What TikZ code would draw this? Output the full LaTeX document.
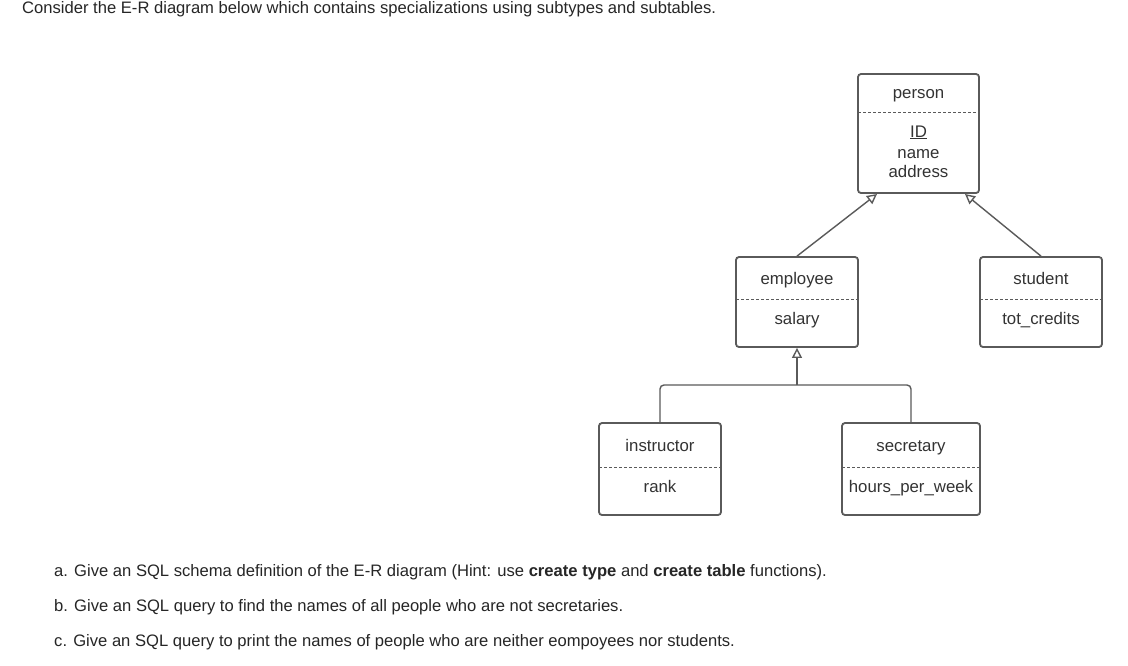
\documentclass[tikz,border=0pt]{standalone}
\usepackage{fontspec}
\setmainfont{Liberation Sans}
\usetikzlibrary{arrows.meta}

\definecolor{linegray}{HTML}{5A5A5A}
\definecolor{textgray}{HTML}{333333}

\tikzset{
	entity/.style = {draw=linegray, line width=1.8pt, rounded corners=3pt, inner sep=0pt},
	divider/.style = {draw=linegray, line width=0.9pt, dash pattern=on 3pt off 2pt},
	attr/.style = {text=textgray, font=\fontsize{16.8}{20}\selectfont, inner sep=0pt, anchor=base, yshift=-6pt},
	isa/.style = {draw=linegray, line width=1.4pt, -{Triangle[open, length=10pt, width=10pt]}},
	link/.style = {draw=linegray, line width=1.4pt, rounded corners=4pt},
	question/.style = {anchor=west, inner sep=0pt, text=black!85, font=\fontsize{16.6}{20}\selectfont}
}

\begin{document}
\begin{tikzpicture}[x=1pt, y=-1pt]
	\useasboundingbox[fill=white] (0,0) rectangle (1128,665);
	
	% question text
	\node[question] (intro) at (22,9) {Consider the E-R diagram below which contains specializations using subtypes and subtables.};
	\node[question] (qa) at (54,572) {a. Give an SQL schema definition of the E-R diagram (Hint: use \textbf{create type} and \textbf{create table} functions).};
	\node[question] (qb) at (54,607) {b. Give an SQL query to find the names of all people who are not secretaries.};
	\node[question] (qc) at (54,642) {c. Give an SQL query to print the names of people who are neither eompoyees nor students.};
	
	% entities
	\node[entity, minimum width=121pt, minimum height=119pt] (person) at (918.5,133.5) {};
	\node[entity, minimum width=122pt, minimum height=90pt] (employee) at (797,302) {};
	\node[entity, minimum width=122pt, minimum height=90pt] (student) at (1041,302) {};
	\node[entity, minimum width=122pt, minimum height=92pt] (instructor) at (660,469) {};
	\node[entity, minimum width=138pt, minimum height=92pt] (secretary) at (911,469) {};
	
	\draw[divider] (858,112) -- (979,112);
	\draw[divider] (736,299) -- (858,299);
	\draw[divider] (980,299) -- (1102,299);
	\draw[divider] (599,467) -- (721,467);
	\draw[divider] (842,467) -- (980,467);
	
	\node[attr] (person-title) at (918.5,92) {person};
	\node[attr] (person-id) at (918.5,131) {\underline{ID}};
	\node[attr] (person-name) at (918.5,152) {name};
	\node[attr] (person-addr) at (918.5,171) {address};
	
	\node[attr] (employee-title) at (797,278) {employee};
	\node[attr] (employee-salary) at (797,318) {salary};
	
	\node[attr] (student-title) at (1041,278) {student};
	\node[attr] (student-credits) at (1041,318) {tot\_credits};
	
	\node[attr] (instructor-title) at (660,445) {instructor};
	\node[attr] (instructor-rank) at (660,486) {rank};
	
	\node[attr] (secretary-title) at (911,445) {secretary};
	\node[attr] (secretary-hours) at (911,486) {hours\_per\_week};
	
	% specializations
	\coordinate (person-left) at (877,194);
	\coordinate (person-right) at (965,194);
	\coordinate (split) at (797,385);
	
	\draw[isa] (employee.north) -- (person-left);
	\draw[isa] (student.north) -- (person-right);
	
	\draw[link] (instructor.north) |- (split) -| (secretary.north);
	\draw[isa] (split) -- (employee.south);
	
\end{tikzpicture}
\end{document}
